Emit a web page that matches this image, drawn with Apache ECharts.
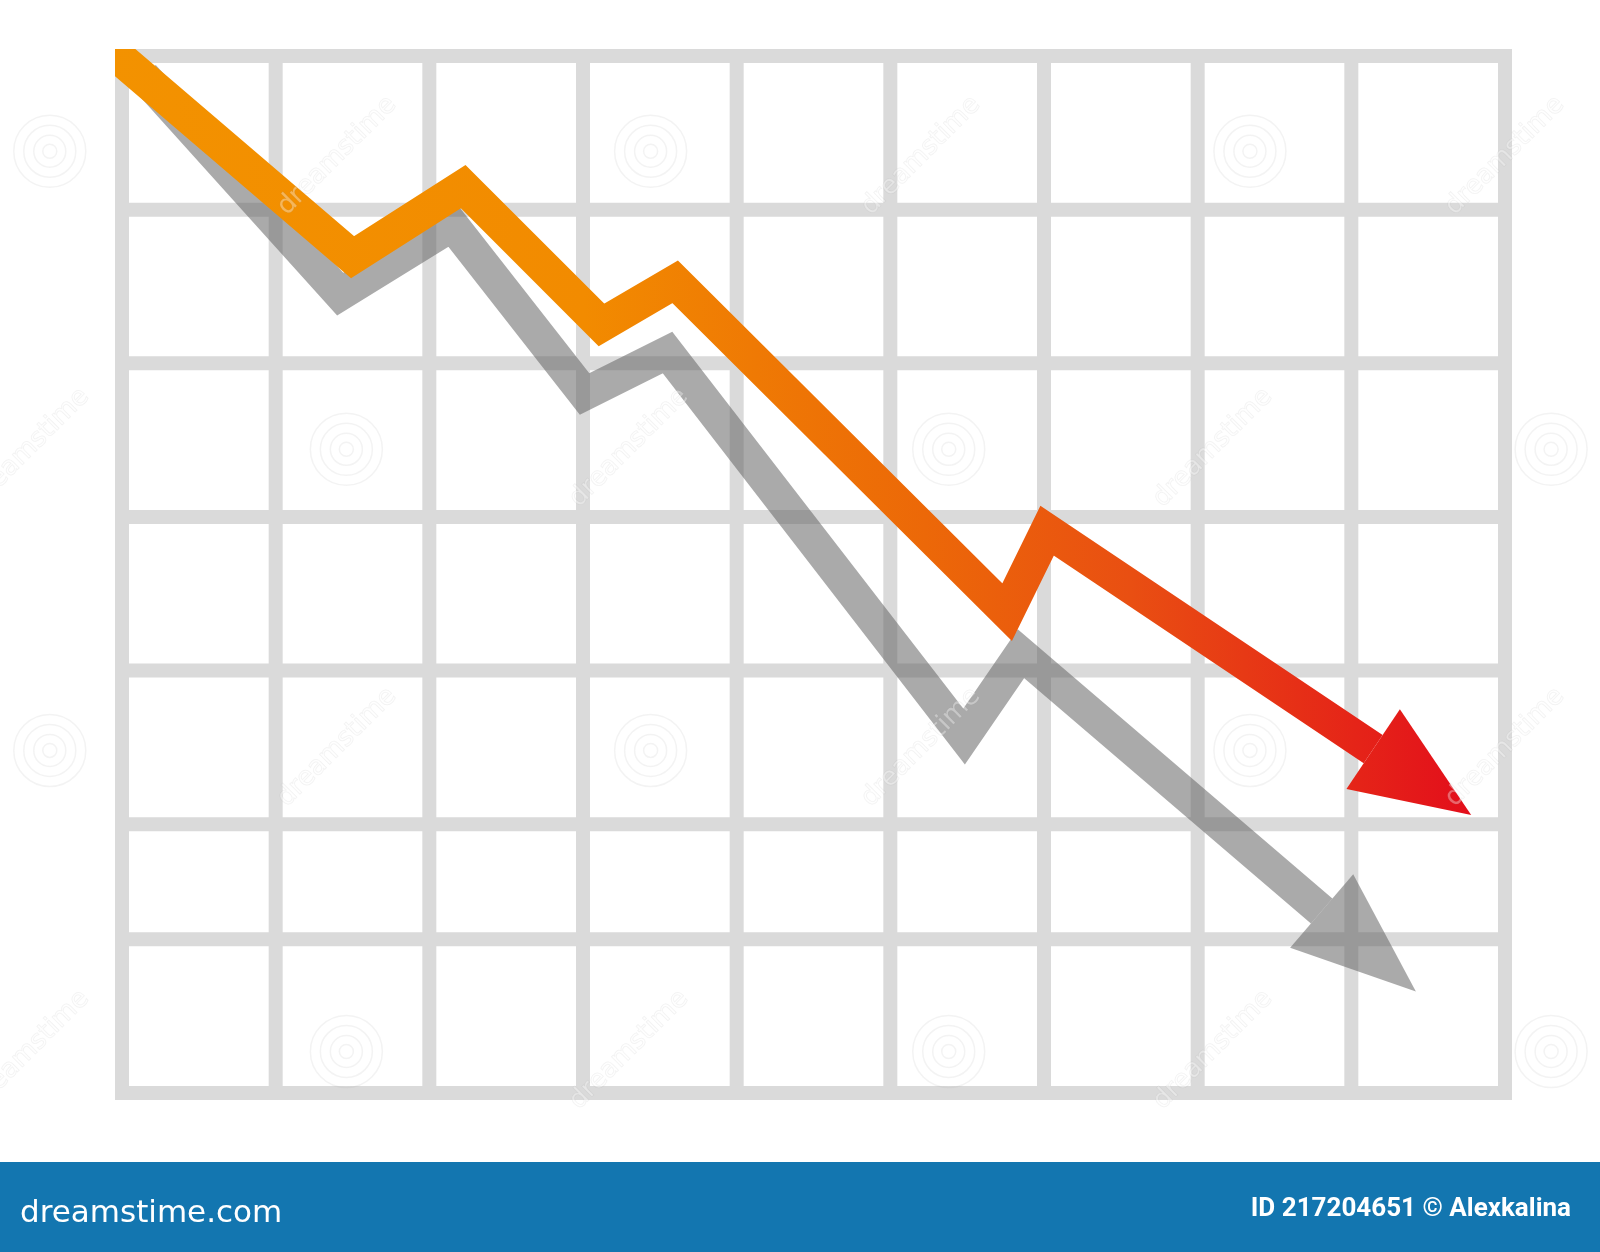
<!DOCTYPE html>
<html><head><meta charset="utf-8">
<script src="https://cdn.jsdelivr.net/npm/echarts@6/dist/echarts.min.js"></script>
<style>html,body{margin:0;padding:0;background:#fff;}#c{width:1600px;height:1252px;}</style>
</head><body><div id="c"></div>
<script>
// Grid line positions (axis units; one unit = one square cell)
const columnLines = [0, 1, 2, 3, 4, 5, 6, 7, 8, 9];
const rowLines = [0, 1, 1.75, 2.75, 3.75, 4.75, 5.75, 6.75];
// Orange/red falling line (last point = arrow tip)
const orangeX = [-0.1, 1.50, 2.22, 3.12, 3.60, 5.76, 6.02, 8.78];
const orangeY = [6.81, 5.44, 5.90, 5.00, 5.28, 3.13, 3.66, 1.81];
// Grey shadow line (last point = arrow tip)
const greyX = [0.14, 1.42, 2.15, 3.01, 3.55, 5.48, 5.85, 8.42];
const greyY = [6.62, 5.20, 5.65, 4.55, 4.82, 2.32, 2.86, 0.66];
// Footer texts
const footerLeft = 'dreamstime.com';
const footerRight = 'ID 217204651 \u00A9 Alexkalina';
// Faint watermark texts and spiral marks (axis units)
const watermarkX = [1.4, 5.2, 9.0, -0.6, 3.3, 7.1, 1.4, 5.2, 9.0, -0.6, 3.3, 7.1];
const watermarkY = [6.1, 6.1, 6.1, 4.2, 4.2, 4.2, 2.25, 2.25, 2.25, 0.28, 0.28, 0.28];
const watermarkText = 'dreamstime';
const spiralX = [-0.47, 3.44, 7.34, 1.46, 5.38, 9.30, -0.47, 3.44, 7.34, 1.46, 5.38, 9.30];
const spiralY = [6.13, 6.13, 6.13, 4.19, 4.19, 4.19, 2.23, 2.23, 2.23, 0.27, 0.27, 0.27];

const chart = echarts.init(document.getElementById('c'), null, {renderer: 'canvas'});
const X_MAX = 9, Y_MAX = 6.75;

function gridSeries(values, vertical) {
  return {
    type: 'custom', coordinateSystem: 'cartesian2d', z: 1, silent: true, animation: false,
    data: values.map(v => [v]),
    renderItem(params, api) {
      const v = api.value(0);
      const a = vertical ? api.coord([v, 0]) : api.coord([0, v]);
      const b = vertical ? api.coord([v, Y_MAX]) : api.coord([X_MAX, v]);
      return {type: 'line', shape: {x1: a[0], y1: a[1], x2: b[0], y2: b[1]},
        style: {stroke: '#dadada', lineWidth: 14, lineCap: 'square'}};
    }
  };
}

function arrowSeries(xs, ys, strokeFn, width, headLen, headW, z) {
  return {
    type: 'custom', coordinateSystem: 'cartesian2d', z, silent: true, animation: false,
    data: [[xs[0], ys[0]]],
    renderItem(params, api) {
      const pts = xs.map((x, i) => api.coord([x, ys[i]]));
      const tip = pts[pts.length - 1], prev = pts[pts.length - 2];
      const dx = tip[0] - prev[0], dy = tip[1] - prev[1], d = Math.hypot(dx, dy);
      const ux = dx / d, uy = dy / d, px = -uy, py = ux;
      const base = [tip[0] - ux * headLen, tip[1] - uy * headLen];
      const c1 = [base[0] + px * headW / 2, base[1] + py * headW / 2];
      const c2 = [base[0] - px * headW / 2, base[1] - py * headW / 2];
      const origin = api.coord([0, Y_MAX]);
      const paint = strokeFn(pts[0][0], tip[0]);
      return {
        type: 'group',
        clipPath: {type: 'rect', shape: {x: origin[0] - 7, y: origin[1] - 7, width: 2000, height: 2000}},
        children: [
          {type: 'polyline', shape: {points: pts.slice(0, -1).concat([base])},
           style: {stroke: paint, lineWidth: width, fill: null, lineJoin: 'miter', lineCap: 'butt'}},
          {type: 'polygon', shape: {points: [c1, tip, c2]}, style: {fill: paint}}
        ]
      };
    }
  };
}

const orangePaint = (x0, x1) => new echarts.graphic.LinearGradient(x0, 0, x1, 0, [
  {offset: 0, color: '#f39200'},
  {offset: 0.35, color: '#f28b00'},
  {offset: 0.6, color: '#ec6808'},
  {offset: 0.75, color: '#e94f12'},
  {offset: 1, color: '#e30e1b'}
], true);
const greyPaint = () => 'rgba(100,100,100,0.55)';

const watermarkSeries = {
  type: 'custom', coordinateSystem: 'cartesian2d', z: 5, silent: true, animation: false, clip: false,
  data: watermarkX.map((x, i) => [x, watermarkY[i]]),
  renderItem(params, api) {
    const p = api.coord([api.value(0), api.value(1)]);
    return {type: 'text', x: p[0], y: p[1], rotation: Math.PI / 4,
      style: {text: watermarkText, font: '26px "DejaVu Sans"', fill: 'rgba(255,255,255,0.35)',
        stroke: 'rgba(150,150,150,0.12)', lineWidth: 1, align: 'center', verticalAlign: 'middle'}};
  }
};

const spiralSeries = {
  type: 'custom', coordinateSystem: 'cartesian2d', z: 5, silent: true, animation: false, clip: false,
  data: spiralX.map((x, i) => [x, spiralY[i]]),
  renderItem(params, api) {
    const p = api.coord([api.value(0), api.value(1)]);
    const st = {stroke: 'rgba(160,160,160,0.12)', fill: null, lineWidth: 1.5};
    return {type: 'group', children: [36, 26, 16, 7].map(r => ({
      type: 'circle', shape: {cx: p[0], cy: p[1], r}, style: st
    }))};
  }
};

chart.setOption({
  animation: false,
  backgroundColor: '#ffffff',
  grid: {left: 122, right: 95, top: 56, bottom: 159, containLabel: false},
  xAxis: {type: 'value', min: 0, max: X_MAX, show: false},
  yAxis: {type: 'value', min: 0, max: Y_MAX, show: false},
  series: [
    gridSeries(columnLines, true),
    gridSeries(rowLines, false),
    arrowSeries(greyX, greyY, greyPaint, 33, 124, 97, 2),
    arrowSeries(orangeX, orangeY, orangePaint, 34, 118, 96, 3),
    watermarkSeries,
    spiralSeries
  ],
  graphic: [
    {type: 'rect', left: 0, top: 1162, shape: {width: 1600, height: 90}, style: {fill: '#1376b0'}, z: 10},
    {type: 'text', x: 20, y: 1214, z: 11,
     style: {text: footerLeft, fill: '#ffffff', font: '31px "DejaVu Sans"', align: 'left', verticalAlign: 'middle'}},
    {type: 'text', x: 1571, y: 1209, z: 11,
     style: {text: footerRight, fill: '#ffffff', font: 'bold 26px Roboto', align: 'right', verticalAlign: 'middle'}}
  ]
});
</script></body></html>
